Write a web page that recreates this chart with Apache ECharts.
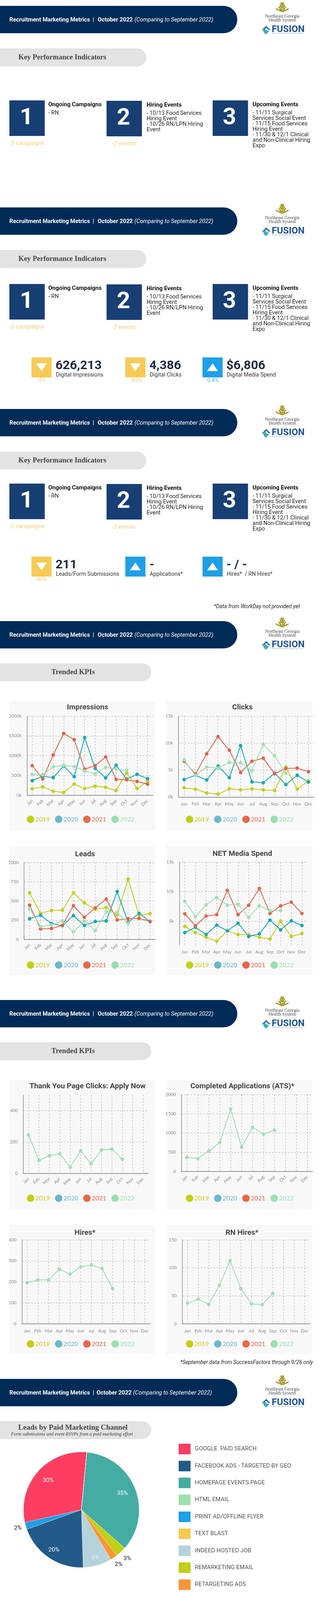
<!DOCTYPE html>
<html>
<head>
<meta charset="utf-8">
<title>Recruitment Marketing Metrics</title>
<script src="https://cdn.jsdelivr.net/npm/echarts@6/dist/echarts.min.js"></script>
<style>
html, body { margin: 0; padding: 0; background: #fff; }
#main { width: 816px; height: 4098px; }
</style>
</head>
<body>
<div id="main"></div>
<script>
const months = ['Jan','Feb','Mar','Apr','May','Jun','Jul','Aug','Sep','Oct','Nov','Dec'];
const years = ['2019','2020','2021','2022'];

// values in k
const impressions2019 = [165,214,102,72,283,171,231,201,122,567,171,353];
const impressions2020 = [369,478,448,738,471,1456,679,438,758,412,530,418];
const impressions2021 = [748,412,1018,1562,1404,659,748,969,402,392,349,280];
const impressions2022 = [530,517,718,755,725,613,540,708,659,633];

const clicks2019 = [1.71,1.47,0.77,0.53,1.54,1.35,1.52,1.33,1.21,5.55,1.47,2.99];
const clicks2020 = [3.23,4.03,3.16,5.72,3.59,9.53,2.82,2.65,4.44,2.29,4.03,2.77];
const clicks2021 = [6.63,4.27,8.0,11.19,8.66,4.53,6.63,7.21,4.32,5.31,5.35,4.68];
const clicks2022 = [6.85,4.03,5.55,5.38,6.39,6.32,4.87,9.74,7.65,4.39];

const leads2019 = [606,340,377,382,606,474,391,416,320,785,315,337];
const leads2020 = [269,315,205,179,310,183,233,240,623,222,340,230];
const leads2021 = [445,137,142,183,438,288,411,525,254,269,274,235];
const leads2022 = [396,168,188,237,98,239,112,362,347,210];

const spend2019 = [4.14,3.09,2.30,1.62,3.38,2.74,2.74,2.30,2.0,5.02,2.43,2.92];
const spend2020 = [3.09,3.97,2.76,4.34,3.38,4.67,2.43,2.87,5.2,3.55,5.07,4.28];
const spend2021 = [6.25,4.23,5.88,6.12,10.22,6.12,7.7,10.55,6.32,7.59,8.22,6.34];
const spend2022 = [8.38,5.81,7.79,9.01,7.72,7.89,5.66,7.59,6.78,6.84];

const applyClicks2022 = [245,83,113,125,40,143,61,150,155,90];
const applications2022 = [365,338,531,755,1628,629,1151,968,1076];
const hires2022 = [196,209,209,261,236,271,280,263,168];
const rnHires2022 = [37,44,35,69,113,63,36,34,54];

const channels = ['GOOGLE  PAID SEARCH','FACEBOOK ADS - TARGETED BY GEO','HOMEPAGE EVENTS PAGE','HTML EMAIL','PRINT AD/OFFLINE FLYER','TEXT BLAST','INDEED HOSTED JOB','REMARKETING EMAIL','RETARGETING ADS'];
const channelShares = [30,20,35,0,2,0,8,3,2];
const channelColors = ['#fb3e62','#235a87','#45aca4','#9ee0ae','#1e9fe6','#f6c950','#b5d3da','#c1cf16','#fb9337'];
const sliceOrder = [2,7,8,6,1,4,0,3,5];   // clockwise from the top

const lineColors = ['#c3cf1b','#17a9b5','#e2654a','#a0e0b4'];
const legendColors = ['#c3cf10','#6cb6d0','#e9664a','#9ae0ae'];

const ongoing = ['- RN'];
const hiring = ['- 10/13 Food Services','Hiring Event','- 10/26 RN/LPN Hiring','Event'];
const upcoming = ['- 11/11 Surgical','Services Social Event','- 11/15 Food Services','Hiring Event','- 11/30 & 12/1 Clinical','and Non-Clinical Hiring','Expo'];

const GOLD = '#a99a2e', NAVY = '#012b57', BOX = '#183f74', YELLOW = '#f6ca55', BLUE = '#1e9fe6', INK = '#1f2a44';
const UP = '#f5cf75';

let g = [];

function txt(text, x, y, font, fill, align) {
    g.push({type: 'text', x: x, y: y, style: {text: text, font: font, fill: fill, textAlign: align || 'left', textVerticalAlign: 'middle'}});
}
function box(x, y, w, h, fill, r, z) {
    g.push({type: 'rect', z: z || 0, shape: {x: x, y: y, width: w, height: h, r: r || 0}, style: {fill: fill}});
}
function wheat(cx, top) {
    const rows = [[0,6,0,4.5],[2.5,6,18,4.5],[-2.5,6,-18,4.5],[0,13,0,6],[4,12,25,5.5],[-4,12,-25,5.5],[6,17,40,6],[-6,17,-40,6],[11,21,62,7],[-11,21,-62,7],[4,23,30,5],[-4,23,-30,5],[0,22,0,5]];
    rows.forEach(r => {
        g.push({type: 'ellipse', x: cx + r[0], y: top + r[1], rotation: -r[2] * Math.PI / 180,
            shape: {cx: 0, cy: 0, rx: 1.8, ry: r[3]}, style: {fill: GOLD}});
    });
}
function header(top, x2, x3) {
    box(0, top, 607, 70, NAVY, [0,35,35,0]);
    txt('Recruitment Marketing Metrics', 24, top + 36, 'bold 14.7px Roboto', '#fff');
    txt('|', 237, top + 36, 'bold 14px Roboto', '#fff');
    txt('October 2022', x2, top + 36, 'bold 14.7px Roboto', '#fff');
    txt('(Comparing to September 2022)', x3, top + 36, 'italic 14.5px Roboto', '#fff');
    wheat(722, top - 11);
    txt('Northeast Georgia', 722, top + 27, '12px "Liberation Serif"', '#444', 'center');
    txt('Health System', 722, top + 37, '12px "Liberation Serif"', '#444', 'center');
    g.push({type: 'polygon', shape: {points: [[681,top+51],[692,top+62],[687,top+62],[681,top+56],[675,top+62],[670,top+62]]}, style: {fill: '#1f6fa8'}});
    g.push({type: 'polygon', shape: {points: [[673,top+64],[678,top+59],[684,top+64],[689,top+64],[681,top+73],[677,top+71]]}, style: {fill: '#38aebb'}});
    txt('FUSION', 695, top + 61, 'bold 24px Roboto', '#1e4f96');
    txt('Where Recruitment Marketing Works', 735, top + 71, '5px Roboto', '#9dbad6', 'center');
}
function pill(top, w, text, x, align) {
    box(0, top, w, 46, '#e3e3e3', [0,23,23,0]);
    if (text) txt(text, x, top + 23, 'bold 18.5px "Liberation Serif"', '#444', align);
}
function block(top) {
    box(24, top, 90.5, 91, BOX);
    box(272.5, top + 1, 90.5, 91, BOX);
    box(544, top, 90.5, 91, BOX);
    txt('1', 68, top + 46, 'bold 60px Roboto', '#fff', 'center');
    txt('2', 316, top + 47, 'bold 60px Roboto', '#fff', 'center');
    txt('3', 587, top + 46, 'bold 60px Roboto', '#fff', 'center');
    txt('Ongoing Campaigns', 123.5, top + 11, 'bold 15px Roboto', '#111');
    txt('Hiring Events', 375, top + 12, 'bold 15px Roboto', '#111');
    txt('Upcoming Events', 646, top + 11, 'bold 15px Roboto', '#111');
    ongoing.forEach((s, i) => txt(s, 123.5, top + 32 + i * 14, '14.5px Roboto', '#222'));
    hiring.forEach((s, i) => txt(s, 375, top + 33 + i * 14, '14.5px Roboto', '#222'));
    upcoming.forEach((s, i) => txt(s, 646, top + 32 + i * 14, '14.5px Roboto', '#222'));
    txt('-2 campaigns', 69, top + 110, '15px Roboto', UP, 'center');
    txt('-2 events', 317, top + 111, '15px Roboto', UP, 'center');
}
function tile(x, top, up) {
    box(x, top, 51.5, 51, up ? BLUE : YELLOW);
    const c = x + 25.7;
    const pts = up ? [[c, top+15],[c+14, top+35],[c-14, top+35]] : [[c-14, top+15],[c+14, top+15],[c, top+35]];
    g.push({type: 'polygon', shape: {points: pts}, style: {fill: '#fff'}});
}
function kpi(x, top, value, label) {
    txt(value, x, top + 22, 'bold 32px Roboto', INK);
    txt(label, x + 1, top + 45, '14.2px Roboto', '#333');
}

[15,531,1047,1590,2560].forEach(t => header(t, 250, 344));
header(3530, 247, 340.5);

pill(124, 374, 'Key Performance Indicators', 47);
pill(640, 374, 'Key Performance Indicators', 47);
pill(1156, 374, 'Key Performance Indicators', 47);
pill(1698, 387, 'Trended KPIs', 187, 'center');
pill(2668, 387, 'Trended KPIs', 187, 'center');
pill(3638, 387);
txt('Leads by Paid Marketing Channel', 186.5, 3655, 'bold 19px "Liberation Serif"', '#444', 'center');
txt('Form submissions and event RSVPs from a paid marketing effort', 184, 3672, 'italic 12px "Liberation Serif"', '#333', 'center');

block(257);
block(727);
block(1238);

tile(80.5, 915, false); tile(320.5, 915, false); tile(518, 915, true);
kpi(142, 915, '626,213', 'Digital Impressions');
kpi(382, 915, '4,386', 'Digital Clicks');
kpi(579, 915, '$6,806', 'Digital Media Spend');
txt('-5%', 107, 973, '14px Roboto', UP, 'center');
txt('-43%', 348, 974, '14px Roboto', UP, 'center');
txt('0.4%', 545, 974, '14px Roboto', '#4db0e8', 'center');

tile(80.5, 1425, false); tile(320.5, 1425, true); tile(518, 1425, true);
kpi(142, 1425, '211', 'Leads/Form Submissions');
kpi(382, 1425, '-', 'Applications*');
kpi(579, 1425, '- / -', 'Hires*  / RN Hires*');
txt('-40%', 105, 1484, '14px Roboto', UP, 'center');
txt('*Data from WorkDay not provided yet', 547, 1554, 'italic 13.8px Roboto', '#222');
txt('*September data from SuccessFactors through 9/26 only', 461, 3489, 'italic 13.8px Roboto', '#222');

const panelRows = [[1796,330],[2166,330],[2766,330],[3136,330]];
panelRows.forEach(r => {
    box(24, r[0], 373, r[1], '#f8f8f8', 0, -1);
    box(426, r[0], 373, r[1], '#f8f8f8', 0, -1);
});

const charts = [
    {title: 'Impressions', tx: 224, ty: 1813, left: 69, top: 1833, width: 322, height: 203, min: 0, max: 2000, interval: 500, unit: 'k', rotate: 45, lx: 68.5, ly: 2088, data: [impressions2019, impressions2020, impressions2021, impressions2022]},
    {title: 'Clicks', tx: 620, ty: 1813, left: 456.5, top: 1833, width: 347, height: 207.5, min: 0, max: 15, interval: 5, unit: 'k', rotate: 0, lx: 475.5, ly: 2088, data: [clicks2019, clicks2020, clicks2021, clicks2022]},
    {title: 'Leads', tx: 217.5, ty: 2189, left: 61.7, top: 2208, width: 336, height: 197, min: 0, max: 1000, interval: 250, unit: '', rotate: 45, lx: 68.5, ly: 2461, data: [leads2019, leads2020, leads2021, leads2022]},
    {title: 'NET Media Spend', tx: 620, ty: 2188, left: 459, top: 2207, width: 327, height: 212, min: 1, max: 15, interval: 1, unit: 'k', rotate: 0, lx: 475.5, ly: 2461, ticks: [5,10,15], noBase: true, data: [spend2019, spend2020, spend2021, spend2022]},
    {title: 'Thank You Page Clicks: Apply Now', tx: 224, ty: 2783, left: 59.6, top: 2803, width: 320, height: 201, min: 0, max: 500, interval: 100, unit: '', rotate: 45, lx: 68.5, ly: 3058, ticks: [0,200,400], data: [null, null, null, applyClicks2022]},
    {title: 'Completed Applications (ATS)*', tx: 620, ty: 2783, left: 464, top: 2802, width: 336, height: 197, min: 0, max: 2000, interval: 500, unit: '', rotate: 45, lx: 475.5, ly: 3058, data: [null, null, null, applications2022]},
    {title: 'Hires*', tx: 217.5, ty: 3158, left: 56, top: 3174, width: 328, height: 215, min: 0, max: 400, interval: 100, unit: '', rotate: 0, lx: 68.5, ly: 3431, data: [null, null, null, hires2022]},
    {title: 'RN Hires*', tx: 619, ty: 3158, left: 466, top: 3174, width: 327, height: 215, min: 0, max: 150, interval: 50, unit: '', rotate: 0, lx: 475.5, ly: 3431, data: [null, null, null, rnHires2022]}
];

const dash = {type: [4, 4], color: '#a8a8a8', width: 1};
const tickFont = {color: '#8a8a8a', fontFamily: 'Lato', fontSize: 11.5};

let titles = [], grids = [], xAxes = [], yAxes = [], series = [], legends = [];

charts.forEach((c, i) => {
    titles.push({text: c.title, left: c.tx, top: c.ty - 11, textAlign: 'center', padding: 0,
        textStyle: {fontFamily: 'Roboto', fontWeight: 'bold', fontSize: 19, color: '#444'}});
    grids.push({left: c.left, top: c.top, width: c.width, height: c.height});
    xAxes.push({type: 'category', gridIndex: i, data: months, boundaryGap: true,
        axisLine: {show: !c.noBase, onZero: false, lineStyle: {color: '#7a7a7a', width: 1.5}},
        axisTick: {show: false, alignWithLabel: true},
        axisLabel: Object.assign({interval: 0, rotate: c.rotate, margin: 12}, tickFont),
        splitLine: {show: true, alignWithLabel: true, interval: 0, lineStyle: dash}});
    const tickSet = c.ticks ? {customValues: c.ticks} : {};
    yAxes.push({type: 'value', gridIndex: i, min: c.min, max: c.max, interval: c.interval,
        axisLine: {show: true, lineStyle: {color: '#555', width: 1}},
        axisTick: Object.assign({show: false}, tickSet),
        axisLabel: Object.assign({margin: 14, formatter: v => v + c.unit}, tickFont, tickSet),
        splitLine: Object.assign({show: true, lineStyle: dash}, tickSet)});
    c.data.forEach((d, k) => {
        if (!d) return;
        series.push({type: 'line', name: years[k], xAxisIndex: i, yAxisIndex: i, data: d,
            symbol: 'circle', symbolSize: 9, lineStyle: {width: 2.2, color: lineColors[k]},
            itemStyle: {color: lineColors[k]}});
    });
    legends.push({left: c.lx, top: c.ly, itemWidth: 19, itemHeight: 19, itemGap: 13, icon: 'circle', selectedMode: false,
        padding: 0, textStyle: {fontFamily: 'Lato', fontSize: 16, padding: [0, 0, 4, -2]},
        data: years.map((y, k) => ({name: y, itemStyle: {color: legendColors[k]}, textStyle: {color: legendColors[k]}}))});
});

// the pie, with its label distances from the centre
const labelReach = [113,125,113,0,169,0,128,172,170];
const labelInk = ['#fff','#fff','#fff','#fff','#111','#fff','#e8eff1','#111','#111'];
const pieCx = 208, pieCy = 3865;

series.push({type: 'pie', center: [pieCx, pieCy], radius: 148, startAngle: 84.6, clockwise: true,
    avoidLabelOverlap: false,
    itemStyle: {borderColor: '#fff', borderWidth: 0.5},
    labelLine: {show: false},
    labelLayout: params => {
        const idx = sliceOrder[params.dataIndex];
        const mx = params.labelRect.x + params.labelRect.width / 2 - pieCx;
        const my = params.labelRect.y + params.labelRect.height / 2 - pieCy;
        const k = labelReach[idx] / Math.sqrt(mx * mx + my * my) - 1;
        return {dx: mx * k, dy: my * k};
    },
    data: sliceOrder.map(idx => ({
        name: channels[idx],
        value: channelShares[idx],
        itemStyle: {color: channelColors[idx]},
        label: {show: channelShares[idx] > 0, position: 'inside', formatter: channelShares[idx] + '%',
            color: labelInk[idx], fontFamily: 'Roboto', fontSize: 15}
    }))});
legends.push({orient: 'vertical', left: 455, top: 3694, itemWidth: 32.5, itemHeight: 29, itemGap: 12.4, icon: 'rect',
    selectedMode: false, padding: 0,
    textStyle: {fontFamily: 'Roboto', fontSize: 15, color: '#555', padding: [0, 0, 0, 5]},
    data: channels.map((n, i) => ({name: n, itemStyle: {color: channelColors[i]}}))});

let myChart = echarts.init(document.getElementById('main'));
myChart.setOption({
    animation: false,
    backgroundColor: '#fff',
    title: titles,
    grid: grids,
    xAxis: xAxes,
    yAxis: yAxes,
    legend: legends,
    graphic: {elements: g},
    series: series
});
</script>
</body>
</html>
